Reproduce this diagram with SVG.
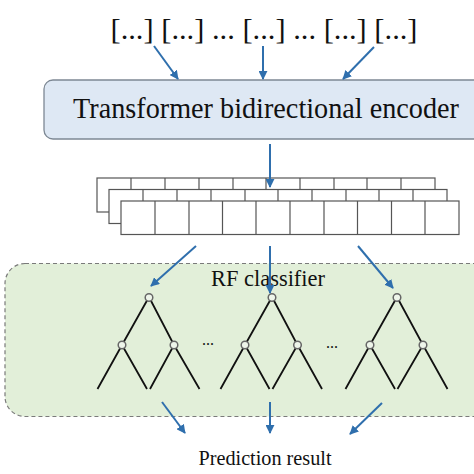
<svg xmlns="http://www.w3.org/2000/svg" width="474" height="474" viewBox="0 0 474 474">
<defs>
<marker id="ah" viewBox="0 0 10 10" refX="9" refY="5" markerWidth="4.5" markerHeight="4.5" orient="auto" markerUnits="strokeWidth">
<path d="M0,0 L10,5 L0,10 z" fill="#2f6fad"/>
</marker>
</defs>
<style>
.t{font-family:"Liberation Serif","DejaVu Serif",serif;fill:#111}
.a{stroke:#2f6fad;stroke-width:2;fill:none;marker-end:url(#ah)}
.cell{fill:#fff;stroke:#555;stroke-width:1.2}
.br{stroke:#111;stroke-width:1.8;fill:none}
.nd{fill:#eef5ea;stroke:#666;stroke-width:1.5}
</style>
<rect width="474" height="474" fill="#fff"/>
<g id="inputs">
<text class="t" x="264" y="39" font-size="30" text-anchor="middle" textLength="307" lengthAdjust="spacingAndGlyphs">[...] [...] ... [...] ... [...] [...]</text>
</g>
<g id="encoder">
<rect x="44" y="80" width="450" height="59" rx="9" fill="#dee8f4" stroke="#7d8894" stroke-width="1.3"/>
<text class="t" x="266" y="118" font-size="29" text-anchor="middle" textLength="386" lengthAdjust="spacingAndGlyphs">Transformer bidirectional encoder</text>
</g>
<g id="embeddings">
<rect x="97" y="178" width="338" height="34" class="cell"/>
<path d="M131,178V190M165,178V190M199,178V190M233,178V190M266,178V190M300,178V190M334,178V190M367,178V190M401,178V190" stroke="#555" stroke-width="1.2"/>
<rect x="109" y="189.5" width="338" height="34" class="cell"/>
<path d="M143,189.5V201M177,189.5V201M211,189.5V201M245,189.5V201M278,189.5V201M312,189.5V201M346,189.5V201M379,189.5V201M413,189.5V201" stroke="#555" stroke-width="1.2"/>
<rect x="121" y="201" width="338" height="33.5" class="cell"/>
<path d="M155,201V234.5M189,201V234.5M222.5,201V234.5M256,201V234.5M290,201V234.5M324,201V234.5M357.5,201V234.5M391.5,201V234.5M425,201V234.5" stroke="#555" stroke-width="1.2"/>
</g>
<g id="rf-classifier">
<rect x="5" y="263.5" width="500" height="153" rx="20" fill="#e2efd9" stroke="#7a7a7a" stroke-width="1.2" stroke-dasharray="4,3"/>
<text class="t" x="268" y="286" font-size="23" text-anchor="middle" textLength="114" lengthAdjust="spacingAndGlyphs">RF classifier</text>
</g>
<g id="tree1">
<path class="br" d="M149,297L122,345L97.5,389M122,345L147,389M149,297L174,345L150,389M174,345L199.5,389"/>
<circle class="nd" cx="149" cy="297.5" r="3.8"/><circle class="nd" cx="122" cy="345" r="3.8"/><circle class="nd" cx="174" cy="345" r="3.8"/>
</g>
<g id="tree2">
<path class="br" d="M272,297L245,345L220.5,389M245,345L269.5,389M272,297L297.5,345L272.5,389M297.5,345L322,389"/>
<circle class="nd" cx="272" cy="297.5" r="3.8"/><circle class="nd" cx="245" cy="345" r="3.8"/><circle class="nd" cx="297.5" cy="345" r="3.8"/>
</g>
<g id="tree3">
<path class="br" d="M397,297L370,345L345.5,389M370,345L395,389M397,297L423,345L397.5,389M423,345L447.5,389"/>
<circle class="nd" cx="397" cy="297.5" r="3.8"/><circle class="nd" cx="370" cy="345" r="3.8"/><circle class="nd" cx="423" cy="345" r="3.8"/>
</g>
<g id="dots">
<text class="t" x="208" y="345" font-size="16" text-anchor="middle">...</text>
<text class="t" x="332" y="348" font-size="16" text-anchor="middle">...</text>
</g>
<g id="result">
<text class="t" x="265" y="465" font-size="20" text-anchor="middle" textLength="133" lengthAdjust="spacingAndGlyphs">Prediction result</text>
</g>
<g id="connectors">
<line class="a" x1="154" y1="46" x2="178" y2="79"/>
<line class="a" x1="263" y1="46" x2="263" y2="79"/>
<line class="a" x1="374" y1="47" x2="343" y2="79"/>
<line class="a" x1="270" y1="144" x2="270" y2="187"/>
<line class="a" x1="196" y1="246" x2="151" y2="286"/>
<line class="a" x1="270" y1="246" x2="270" y2="293"/>
<line class="a" x1="358" y1="246" x2="393" y2="288"/>
<line class="a" x1="162" y1="402" x2="185" y2="433"/>
<line class="a" x1="270" y1="402" x2="270" y2="433"/>
<line class="a" x1="382" y1="403" x2="350" y2="434"/>
</g>
</svg>
